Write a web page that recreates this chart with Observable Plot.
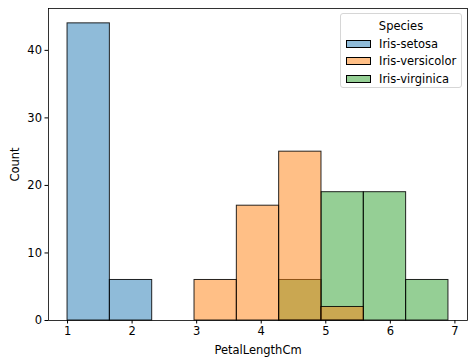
<!DOCTYPE html>
<html><head><meta charset="utf-8">
<script src="https://cdn.jsdelivr.net/npm/d3@7"></script>
<script src="https://cdn.jsdelivr.net/npm/@observablehq/plot@0.6"></script>
<style>
body{margin:0;background:#fff;font-family:"DejaVu Sans",sans-serif;}
#wrap{position:relative;width:474px;height:364px;}
#legend{position:absolute;left:340px;top:13px;width:122px;height:75px;border:1px solid #d6d6d6;border-radius:3px;background:rgba(255,255,255,0.8);font-size:11.5px;color:#000;box-sizing:border-box;}
#legend .title{text-align:center;margin-top:3px;height:18px;line-height:18px;}
#legend .row{display:flex;align-items:center;height:17.5px;}
#legend .sw{width:25px;height:8px;border:1px solid #000;margin-left:5px;margin-right:8px;box-sizing:border-box;}
</style></head>
<body><div id="wrap"><div id="chart"></div><div id="legend"></div></div>
<script>
const species = ["Iris-setosa", "Iris-versicolor", "Iris-virginica"];
const colors = ["#1f77b4", "#ff7f0e", "#2ca02c"];
const binStart = 1.0, binEnd = 6.9, nBins = 9;
const setosaCounts     = [44, 6, 0, 0, 0, 0, 0, 0, 0];
const versicolorCounts = [0, 0, 0, 6, 17, 25, 2, 0, 0];
const virginicaCounts  = [0, 0, 0, 0, 0, 6, 19, 19, 6];
const xTicks = [1, 2, 3, 4, 5, 6, 7];
const yTicks = [0, 10, 20, 30, 40];

const countsBySpecies = [setosaCounts, versicolorCounts, virginicaCounts];
const w = (binEnd - binStart) / nBins;
const rows = [];
// draw in reverse order (first hue on top), like seaborn
for (let s = species.length - 1; s >= 0; s--) {
  countsBySpecies[s].forEach((c, i) => {
    if (c > 0) rows.push({species: species[s], x1: binStart + i * w, x2: binStart + (i + 1) * w, y: c});
  });
}
const pad = (binEnd - binStart) * 0.05;
const ymax = 44 * 1.05;

const plot = Plot.plot({
  width: 474, height: 364,
  marginLeft: 48, marginRight: 7, marginTop: 8, marginBottom: 44,
  style: {fontFamily: "DejaVu Sans, sans-serif", fontSize: "11.5px", color: "#000", background: "#fff"},
  x: {domain: [binStart - pad, binEnd + pad]},
  y: {domain: [0, ymax]},
  color: {domain: species, range: colors},
  marks: [
    Plot.rect(rows, {x1: "x1", x2: "x2", y1: 0, y2: "y", fill: "species", fillOpacity: 0.5, stroke: "#000", strokeOpacity: 0.85, strokeWidth: 1, inset: 0}),
    Plot.frame({stroke: "#000", strokeWidth: 0.8}),
    Plot.axisX({ticks: xTicks, tickFormat: "d", tickSize: 3.5, tickPadding: 3, fontSize: 11.5, label: "PetalLengthCm", labelAnchor: "center", labelArrow: "none", labelOffset: 33}),
    Plot.axisY({ticks: yTicks, tickFormat: "d", tickSize: 3.5, tickPadding: 3, fontSize: 11.5, label: "Count", labelAnchor: "center", labelArrow: "none", labelOffset: 38})
  ]
});
document.getElementById("chart").appendChild(plot);

const lg = document.getElementById("legend");
const t = document.createElement("div"); t.className = "title"; t.textContent = "Species"; lg.appendChild(t);
species.forEach((s, i) => {
  const r = document.createElement("div"); r.className = "row";
  const sw = document.createElement("div"); sw.className = "sw";
  sw.style.background = d3.color(colors[i]).copy({opacity: 0.5}).formatRgb();
  const l = document.createElement("span"); l.textContent = s;
  r.appendChild(sw); r.appendChild(l); lg.appendChild(r);
});
</script></body></html>
